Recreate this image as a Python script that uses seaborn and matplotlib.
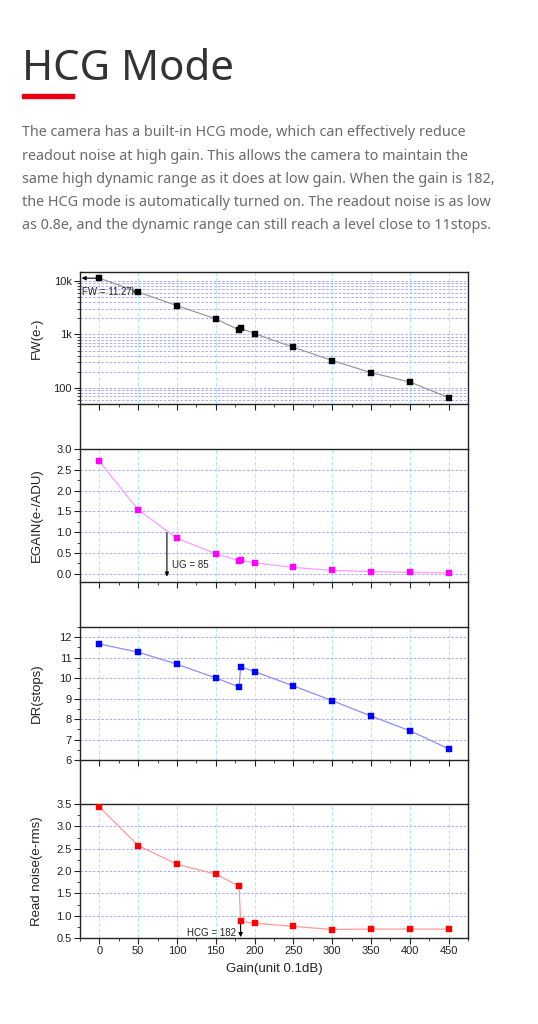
import seaborn as sns
import matplotlib.pyplot as plt
import matplotlib.ticker as ticker
from matplotlib.patches import Rectangle

# values
gain = [0, 50, 100, 150, 180, 182, 200, 250, 300, 350, 400, 450]
fw = [11270, 6200, 3450, 1950, 1215, 1300, 1035, 575, 325, 193, 129, 66]
egain = [2.70, 1.54, 0.85, 0.48, 0.31, 0.32, 0.26, 0.15, 0.08, 0.05, 0.03, 0.02]
dr = [11.67, 11.27, 10.68, 10.01, 9.57, 10.56, 10.32, 9.62, 8.90, 8.15, 7.43, 6.55]
noise = [3.43, 2.57, 2.15, 1.93, 1.66, 0.87, 0.83, 0.76, 0.69, 0.70, 0.70, 0.70]
x_ticks = [0, 50, 100, 150, 200, 250, 300, 350, 400, 450]

title = "HCG Mode"
body_lines = [
    "The camera has a built-in HCG mode, which can effectively reduce",
    "readout noise at high gain. This allows the camera to maintain the",
    "same high dynamic range as it does at low gain. When the gain is 182,",
    "the HCG mode is automatically turned on. The readout noise is as low",
    "as 0.8e, and the dynamic range can still reach a level close to 11stops.",
]

sns.set_theme(style="ticks")
plt.rcParams['font.family'] = ['Liberation Sans', 'DejaVu Sans']

W, H = 538, 1024
fig = plt.figure(figsize=(W / 100, H / 100), dpi=100)
fig.patch.set_facecolor("white")

# header text
fig.text(22 / W, 1 - 80.5 / H, title, fontsize=30.2, color="#333333",
         family="Noto Sans", va="baseline", ha="left")
fig.patches.append(Rectangle((22 / W, 1 - 98 / H), 52 / W, 4 / H,
                             transform=fig.transFigure, color="#e60012"))
for i, line in enumerate(body_lines):
    fig.text(22 / W, 1 - (136.5 + i * 23.1) / H, line, fontsize=10.35,
             color="#6b6b6b", family="Noto Sans", va="baseline", ha="left")

left, width = 80 / W, 388 / W


def px_axes(top, bottom):
    return fig.add_axes([left, 1 - bottom / H, width, (bottom - top) / H])


# panel boxes (top, bottom) in pixels
panels = [(272, 404), (449, 582), (627, 760), (804, 938)]
axes = [px_axes(t, b) for t, b in panels]

# spacers between panels: only side spines
for (t1, b1), (t2, b2) in zip(panels[:-1], panels[1:]):
    sp = px_axes(b1, t2)
    sp.set_xticks([])
    sp.set_yticks([])
    sp.patch.set_alpha(0)
    sp.spines["top"].set_visible(False)
    sp.spines["bottom"].set_visible(False)
    for s in ("left", "right"):
        sp.spines[s].set_linewidth(1.0)
        sp.spines[s].set_color("#222222")

series = [
    (fw, "#9a9a9a", "black"),
    (egain, "#ff9cff", "#ff00ff"),
    (dr, "#8c8cff", "#0000ff"),
    (noise, "#ff9a9a", "#ff0000"),
]
labels = ["FW(e-)", "EGAIN(e-/ADU)", "DR(stops)", "Read noise(e-rms)"]

for ax, (vals, lc, mc), lab in zip(axes, series, labels):
    sns.lineplot(x=gain, y=vals, ax=ax, color=lc, linewidth=0.9,
                 estimator=None, zorder=3)
    sns.scatterplot(x=gain, y=vals, ax=ax, color=mc, marker="s", s=25,
                    edgecolor=mc, linewidth=0.3, zorder=4)
    ax.set_xlim(-25, 475)
    ax.set_xticks(x_ticks)
    ax.xaxis.set_minor_locator(ticker.MultipleLocator(25))
    ax.tick_params(axis="both", which="major", direction="out", length=4,
                   width=0.8, labelsize=8, colors="#222222", pad=2)
    ax.tick_params(axis="both", which="minor", direction="out", length=2,
                   width=0.6)
    ax.xaxis.grid(True, which="major", color="#a8ecff", linestyle=(0, (4, 2)),
                  linewidth=0.7)
    ax.set_ylabel(lab, fontsize=9.5, color="#222222")
    ax.yaxis.set_label_coords(-0.095, 0.5)
    for s in ax.spines.values():
        s.set_linewidth(1.0)
        s.set_color("#222222")
    if ax is not axes[-1]:
        ax.set_xticklabels([])

# FW panel (log)
ax = axes[0]
ax.set_yscale("log")
ax.set_ylim(50, 14700)
ax.yaxis.set_major_locator(ticker.FixedLocator([100, 1000, 10000]))
ax.yaxis.set_major_formatter(ticker.FixedFormatter(["100", "1k", "10k"]))
ax.yaxis.set_minor_locator(ticker.LogLocator(subs=range(2, 10)))
ax.yaxis.set_minor_formatter(ticker.NullFormatter())
ax.yaxis.grid(True, which="both", color="#9a9aff", linestyle=(0, (3, 2)),
              linewidth=0.6)
ax.annotate("", xy=(-23, 11270), xytext=(-4, 11270),
            arrowprops=dict(arrowstyle="-|>", color="black", lw=0.8,
                            mutation_scale=6, shrinkA=0, shrinkB=0))
ax.text(-22, 6200, "FW = 11.27k", fontsize=7, color="#222222", va="center")

# EGAIN panel
ax = axes[1]
ax.set_ylim(-0.2, 3.0)
ax.set_yticks([0.0, 0.5, 1.0, 1.5, 2.0, 2.5, 3.0])
ax.yaxis.set_major_formatter(ticker.FormatStrFormatter("%.1f"))
ax.yaxis.set_minor_locator(ticker.MultipleLocator(0.25))
ax.yaxis.grid(True, color="#9a9aff", linestyle=(0, (3, 2)), linewidth=0.6)
ax.annotate("", xy=(87, -0.07), xytext=(87, 0.99),
            arrowprops=dict(arrowstyle="-|>", color="black", lw=0.8,
                            mutation_scale=6, shrinkA=0, shrinkB=0))
ax.text(93, 0.2, "UG = 85", fontsize=7, color="#222222", va="center")

# DR panel
ax = axes[2]
ax.set_ylim(6, 12.5)
ax.set_yticks(range(6, 13))
ax.yaxis.set_minor_locator(ticker.MultipleLocator(0.5))
ax.yaxis.grid(True, color="#9a9aff", linestyle=(0, (3, 2)), linewidth=0.6)

# read noise panel
ax = axes[3]
ax.set_ylim(0.5, 3.5)
ax.set_yticks([0.5, 1.0, 1.5, 2.0, 2.5, 3.0, 3.5])
ax.yaxis.set_major_formatter(ticker.FormatStrFormatter("%.1f"))
ax.yaxis.set_minor_locator(ticker.MultipleLocator(0.25))
ax.yaxis.grid(True, color="#9a9aff", linestyle=(0, (3, 2)), linewidth=0.6)
ax.annotate("", xy=(182, 0.52), xytext=(182, 0.84),
            arrowprops=dict(arrowstyle="-|>", color="black", lw=0.8,
                            mutation_scale=6, shrinkA=0, shrinkB=0))
ax.text(176, 0.62, "HCG = 182", fontsize=7, color="#222222", va="center",
        ha="right")
ax.set_xlabel("Gain(unit 0.1dB)", fontsize=9.5, color="#222222", labelpad=5)

fig.savefig("out.png", dpi=100, facecolor="white")
